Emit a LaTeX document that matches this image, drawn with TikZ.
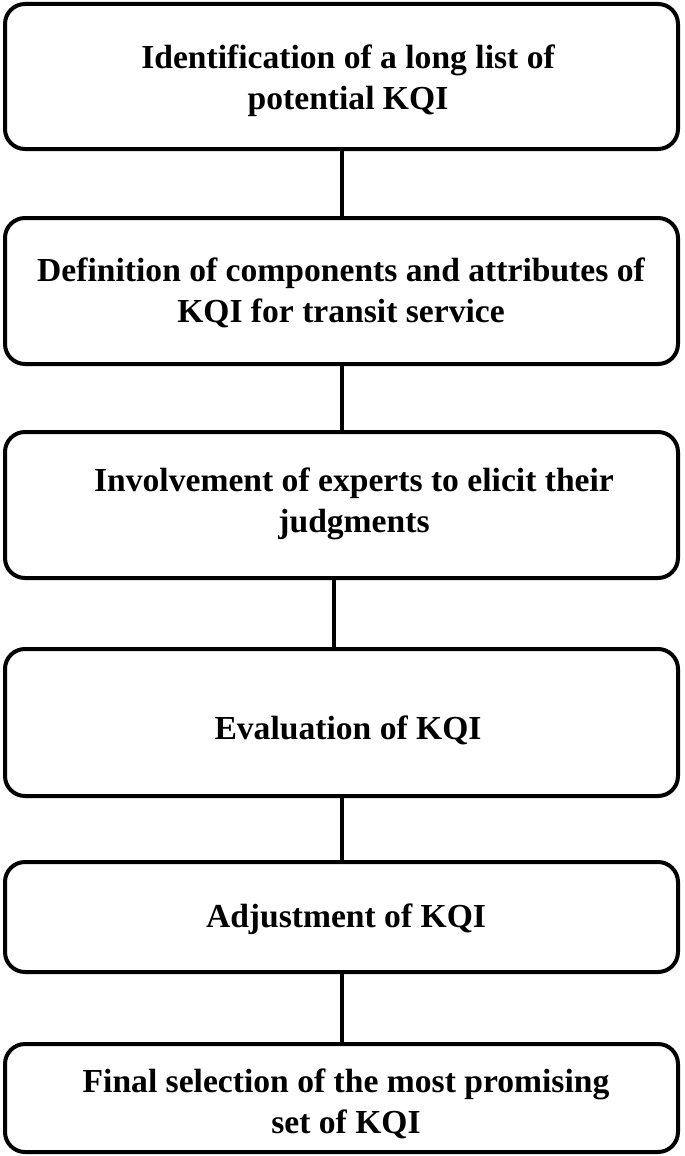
\documentclass[tikz,border=0pt]{standalone}
\usepackage{fontspec}
\setmainfont{Liberation Serif}
\begin{document}
\begin{tikzpicture}[x=0.75pt,y=-0.75pt,
  stepbox/.style={draw=black, line width=3pt, rounded corners=15pt, minimum width=504.75pt, inner sep=0pt},
  label/.style={align=center, font=\fontsize{25.2}{30.5}\selectfont\bfseries, inner sep=0pt},
  conn/.style={draw=black, line width=3pt}]
\useasboundingbox (0,0) rectangle (685,1156);
\node[stepbox, minimum height=108.75pt] (b1) at (341.5,76.5) {};
\node[stepbox, minimum height=109.5pt] (b2) at (341.5,291) {};
\node[stepbox, minimum height=109.5pt] (b3) at (341.5,505) {};
\node[stepbox, minimum height=110.25pt] (b4) at (341.5,722.5) {};
\node[stepbox, minimum height=82.5pt] (b5) at (341.5,917) {};
\node[stepbox, minimum height=81pt] (b6) at (341.5,1098) {};
\node[label] (t1) at (348,81) {Identification of a long list of\\potential KQI};
\node[label] (t2) at (341,293) {Definition of components and attributes of\\KQI for transit service};
\node[label] (t3) at (354,504) {Involvement of experts to elicit their\\judgments};
\node[label] (t4) at (348,730) {Evaluation of KQI};
\node[label] (t5) at (346,919) {Adjustment of KQI};
\node[label] (t6) at (346,1104) {Final selection of the most promising\\set of KQI};
\draw[conn] (b1.south) -- (b2.north);
\draw[conn] (b2.south) -- (b3.north);
\draw[conn] ([xshift=-5.6pt]b3.south) -- ([xshift=-5.6pt]b4.north);
\draw[conn] (b4.south) -- (b5.north);
\draw[conn] (b5.south) -- (b6.north);
\end{tikzpicture}
\end{document}
